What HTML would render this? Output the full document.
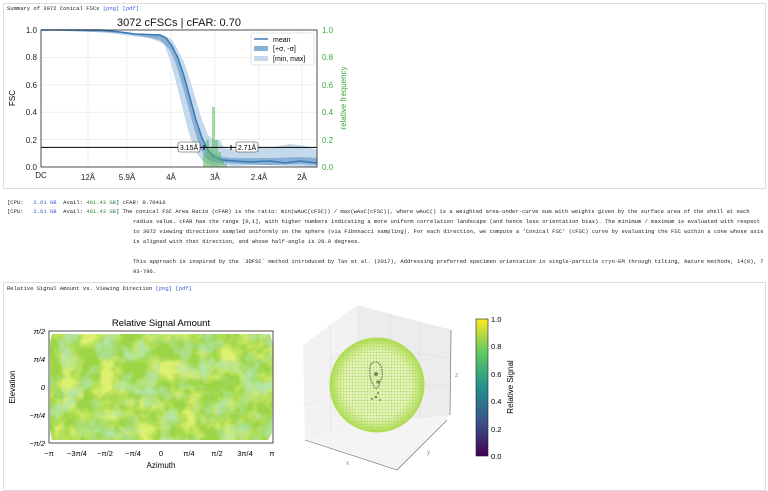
<!DOCTYPE html>
<html><head><meta charset="utf-8"><style>
body{margin:0;width:768px;height:491px;background:#fff;font-family:"Liberation Sans",sans-serif;overflow:hidden;position:relative}
.m{position:absolute;font-family:"Liberation Mono","Noto Sans CJK SC",monospace;font-size:5.5px;color:#222;white-space:nowrap}
.b{color:#3b5bdb}.g{color:#2b8a3e}
svg{position:absolute;left:0;top:0}
</style></head><body>
<div style="position:absolute;left:3px;top:3px;width:761px;height:184px;border:1px solid #ddd"></div>
<div style="position:absolute;left:3px;top:282px;width:761px;height:207px;border:1px solid #ddd"></div>
<div class="m" style="left:7px;top:5px">Summary of 3072 Conical FSCs <span class="b">[png]</span> <span class="b">[pdf]</span></div>
<div class="m" style="left:7px;top:199px"><span>[CPU:</span> <span class="b">&nbsp;&nbsp;2.61 GB</span> &nbsp;Avail: <span class="g">481.43 GB</span>] cFAR: 0.70410</div>
<div class="m" style="left:7px;top:208px"><span>[CPU:</span> <span class="b">&nbsp;&nbsp;2.61 GB</span> &nbsp;Avail: <span class="g">481.43 GB</span>] The conical FSC Area Ratio (cFAR) is the ratio: min(wAuC(cFSC)) / max(wAuC(cFSC)), where wAuC() is a weighted area-under-curve sum with weights given by the surface area of the shell at each</div>
<div class="m" style="left:133px;top:218px">radius value. cFAR has the range [0,1], with higher numbers indicating a more uniform correlation landscape (and hence less orientation bias). The minimum / maximum is evaluated with respect</div>
<div class="m" style="left:133px;top:228px">to 3072 viewing directions sampled uniformly on the sphere (via Fibonacci sampling). For each direction, we compute a 'Conical FSC' (cFSC) curve by evaluating the FSC within a cone whose axis</div>
<div class="m" style="left:133px;top:238px">is aligned with that direction, and whose half-angle is 20.0 degrees.</div>
<div class="m" style="left:133px;top:258px">This approach is inspired by the `3DFSC` method introduced by Tan et al. (2017), Addressing preferred specimen orientation in single-particle cryo-EM through tilting, Nature methods, 14(8), 7</div>
<div class="m" style="left:133px;top:268px">93-796.</div>
<div class="m" style="left:7px;top:285px">Relative Signal Amount vs. Viewing Direction <span class="b">[png]</span> <span class="b">[pdf]</span></div>

<svg width="768" height="491" font-family="Liberation Sans, sans-serif">
<defs>
<filter id="nz" x="0" y="0" width="100%" height="100%"><feTurbulence type="fractalNoise" baseFrequency="0.05" numOctaves="3" seed="4"/><feColorMatrix type="matrix" values="0 0 0 0 0.74  0 0 0 0 0.87  0 0 0 0 0.16  3 0 0 0 -1.2"/></filter>
<filter id="nz2" x="0" y="0" width="100%" height="100%"><feTurbulence type="fractalNoise" baseFrequency="0.05" numOctaves="3" seed="9"/><feColorMatrix type="matrix" values="0 0 0 0 0.45  0 0 0 0 0.78  0 0 0 0 0.40  0 3 0 0 -1.35"/></filter>
<clipPath id="hc"><polygon points="52,334 270,334 273,345 272,433 268,440 52,440 50,430 50,342"/></clipPath>
<pattern id="dots" width="3" height="3" patternUnits="userSpaceOnUse"><rect width="3" height="3" fill="#e4f2c0"/><circle cx="1.5" cy="1.5" r="0.9" fill="#b6df5a"/></pattern>
<radialGradient id="rim" cx="0.5" cy="0.5" r="0.5"><stop offset="0.7" stop-color="#b6df5a" stop-opacity="0"/><stop offset="1" stop-color="#a6d94a" stop-opacity="0.9"/></radialGradient>
</defs>
<text x="179" y="26" font-size="11" text-anchor="middle" fill="#111">3072 cFSCs | cFAR: 0.70</text>
<g stroke="#e5e5e5" stroke-width="0.6">
<line x1="88" y1="30" x2="88" y2="167"/><line x1="127" y1="30" x2="127" y2="167"/><line x1="171" y1="30" x2="171" y2="167"/><line x1="215" y1="30" x2="215" y2="167"/><line x1="259" y1="30" x2="259" y2="167"/><line x1="302" y1="30" x2="302" y2="167"/>
<line x1="41" y1="57.4" x2="317" y2="57.4"/><line x1="41" y1="84.8" x2="317" y2="84.8"/><line x1="41" y1="112.2" x2="317" y2="112.2"/><line x1="41" y1="139.6" x2="317" y2="139.6"/>
</g>
<path d="M41,30 L100,30 L120,32 L140,34 L160,34 L165,36 L172,40 L178,50 L184,62 L190,80 L196,100 L202,120 L208,135 L214,140 L220,140 L224,148 L235,150 L250,148 L270,148 L290,144 L305,146 L317,150 L317,167 L290,166 L260,165 L235,166 L222,165 L214,166 L206,164 L200,158 L194,148 L188,130 L182,106 L176,82 L170,60 L164,44 L150,38 L130,36 L110,33 L95,31 L41,30Z" fill="#c4d9ec"/>
<path d="M41,30 L100,30 L120,32 L140,34 L160,35 L168,40 L174,50 L180,64 L186,82 L192,104 L198,125 L204,142 L210,152 L218,156 L230,158 L250,158 L270,158 L300,157 L317,158 L317,165 L300,164 L270,165 L240,164 L220,163 L212,162 L206,158 L200,148 L194,128 L188,106 L182,84 L176,64 L170,50 L160,40 L140,36 L120,33 L41,30Z" fill="#88afd4"/>
<path d="M41,30 L100,30 L120,32 L135,34 L160,35 L166,38 L172,46 L178,58 L184,76 L190,98 L196,120 L202,138 L208,150 L214,157 L222,160 L235,161 L250,162 L270,161 L285,163 L300,161 L317,163" fill="none" stroke="#3a79b7" stroke-width="1.5"/>
<g fill="#5cb85c" opacity="0.55">
<rect x="203" y="154" width="3" height="13"/><rect x="206" y="140" width="3" height="27"/><rect x="209" y="148" width="3" height="19"/><rect x="212" y="107" width="3" height="60"/><rect x="215" y="140" width="3" height="27"/><rect x="218" y="152" width="3" height="15"/><rect x="221" y="161" width="3" height="6"/><rect x="224" y="164" width="3" height="3"/>
</g>
<line x1="41" y1="147.4" x2="317" y2="147.4" stroke="#000" stroke-width="1"/>
<line x1="204" y1="145" x2="204" y2="150" stroke="#000"/><line x1="231" y1="145" x2="231" y2="150" stroke="#000"/>
<rect x="178" y="142" width="22" height="10" rx="2" fill="#fff" stroke="#333" stroke-width="0.6"/><text x="189" y="150" font-size="7" text-anchor="middle">3.15Å</text>
<rect x="236" y="142" width="22" height="10" rx="2" fill="#fff" stroke="#333" stroke-width="0.6"/><text x="247" y="150" font-size="7" text-anchor="middle">2.71Å</text>
<rect x="41" y="30" width="276" height="137" fill="none" stroke="#222" stroke-width="0.8"/>
<g font-size="8" fill="#222" text-anchor="end">
<text x="37" y="33">1.0</text><text x="37" y="60">0.8</text><text x="37" y="88">0.6</text><text x="37" y="115">0.4</text><text x="37" y="143">0.2</text><text x="37" y="170">0.0</text></g>
<g font-size="8" fill="#3aa83a">
<text x="322" y="33">1.0</text><text x="322" y="60">0.8</text><text x="322" y="88">0.6</text><text x="322" y="115">0.4</text><text x="322" y="143">0.2</text><text x="322" y="170">0.0</text></g>
<text transform="translate(15,98) rotate(-90)" font-size="8" text-anchor="middle">FSC</text>
<text transform="translate(346,98) rotate(-90)" font-size="8" text-anchor="middle" fill="#3aa83a">relative frequency</text>
<g font-size="8" text-anchor="middle" fill="#222"><text x="41" y="178">DC</text><text x="88" y="180">12Å</text><text x="127" y="180">5.9Å</text><text x="171" y="180">4Å</text><text x="215" y="180">3Å</text><text x="259" y="180">2.4Å</text><text x="302" y="180">2Å</text></g>
<rect x="251" y="33" width="63" height="32" fill="#fff" fill-opacity="0.85" stroke="#ccc" stroke-width="0.6" rx="2"/>
<line x1="254" y1="39" x2="268" y2="39" stroke="#3a79b7" stroke-width="1.5"/><text x="273" y="42" font-size="7">mean</text>
<rect x="254" y="46" width="14" height="5" fill="#88afd4"/><text x="273" y="51" font-size="7">[+σ, -σ]</text>
<rect x="254" y="56" width="14" height="5" fill="#c4d9ec"/><text x="273" y="61" font-size="7">[min, max]</text>

<text x="161" y="326" font-size="9.5" text-anchor="middle">Relative Signal Amount</text>
<g clip-path="url(#hc)"><rect x="49" y="331" width="224" height="112" fill="#9bd546"/><rect x="49" y="331" width="224" height="112" filter="url(#nz)"/><rect x="49" y="331" width="224" height="112" filter="url(#nz2)"/></g>
<rect x="49" y="331" width="224" height="112" fill="none" stroke="#222" stroke-width="0.8"/>
<g font-size="7.5" text-anchor="end" font-style="italic"><text x="45" y="334">π/2</text><text x="45" y="362">π/4</text><text x="45" y="390">0</text><text x="45" y="418">−π/4</text><text x="45" y="446">−π/2</text></g>
<g font-size="7.5" text-anchor="middle"><text x="49" y="456">−π</text><text x="77" y="456">−3π/4</text><text x="105" y="456">−π/2</text><text x="133" y="456">−π/4</text><text x="161" y="456">0</text><text x="189" y="456">π/4</text><text x="217" y="456">π/2</text><text x="245" y="456">3π/4</text><text x="272" y="456">π</text></g>
<text x="161" y="468" font-size="8" text-anchor="middle">Azimuth</text>
<text transform="translate(15,387) rotate(-90)" font-size="8" text-anchor="middle">Elevation</text>

<polygon points="303,345 357,305 357,425 305,440" fill="#f2f2f2"/>
<polygon points="357,305 452,330 450,415 357,425" fill="#ececec"/>
<polygon points="305,440 357,425 450,415 397,470" fill="#f4f4f4"/>
<g stroke="#ddd" stroke-width="0.5" fill="none"><line x1="330" y1="325" x2="331" y2="433"/><line x1="390" y1="314" x2="390" y2="422"/><line x1="420" y1="322" x2="420" y2="419"/><line x1="303" y1="375" x2="357" y2="345"/><line x1="303" y1="405" x2="357" y2="385"/><line x1="357" y1="345" x2="451" y2="358"/><line x1="357" y1="385" x2="450" y2="386"/></g>
<line x1="305" y1="440" x2="397" y2="470" stroke="#666" stroke-width="0.6"/><line x1="397" y1="470" x2="447" y2="420" stroke="#666" stroke-width="0.6"/><line x1="451" y1="330" x2="450" y2="415" stroke="#666" stroke-width="0.6"/>
<text x="346" y="465" font-size="6" fill="#888">x</text><text x="427" y="454" font-size="6" fill="#888">y</text><text x="455" y="377" font-size="6" fill="#888">z</text>
<circle cx="377" cy="385" r="47" fill="url(#dots)"/>
<circle cx="377" cy="385" r="47" fill="url(#rim)" stroke="#b3dd52" stroke-width="1"/>
<g fill="#4e6a40" opacity="0.75">
<path d="M371,364 q6,-5 10,2 q3,10 -1,16 q-2,8 -5,6 q-4,-6 -5,-12 q-1,-8 1,-12z" fill="none" stroke="#4e6a40" stroke-width="1.5" stroke-dasharray="1.5 1"/>
<circle cx="376" cy="374" r="2"/><circle cx="378" cy="382" r="1.6"/>
<circle cx="376" cy="397" r="1.3"/><circle cx="380" cy="400" r="1"/><circle cx="372" cy="399" r="1"/><circle cx="378" cy="393" r="1"/></g>

<defs><linearGradient id="vir" x1="0" y1="1" x2="0" y2="0"><stop offset="0" stop-color="#440154"/><stop offset="0.25" stop-color="#3b528b"/><stop offset="0.5" stop-color="#21918c"/><stop offset="0.75" stop-color="#5ec962"/><stop offset="1" stop-color="#fde725"/></linearGradient></defs>
<rect x="476" y="319" width="12" height="137" fill="url(#vir)" stroke="#222" stroke-width="0.6"/>
<g font-size="7.5"><text x="491" y="322">1.0</text><text x="491" y="349">0.8</text><text x="491" y="377">0.6</text><text x="491" y="404">0.4</text><text x="491" y="432">0.2</text><text x="491" y="459">0.0</text></g>
<text transform="translate(513,387) rotate(-90)" font-size="8" text-anchor="middle">Relative Signal</text>
</svg>
</body></html>
